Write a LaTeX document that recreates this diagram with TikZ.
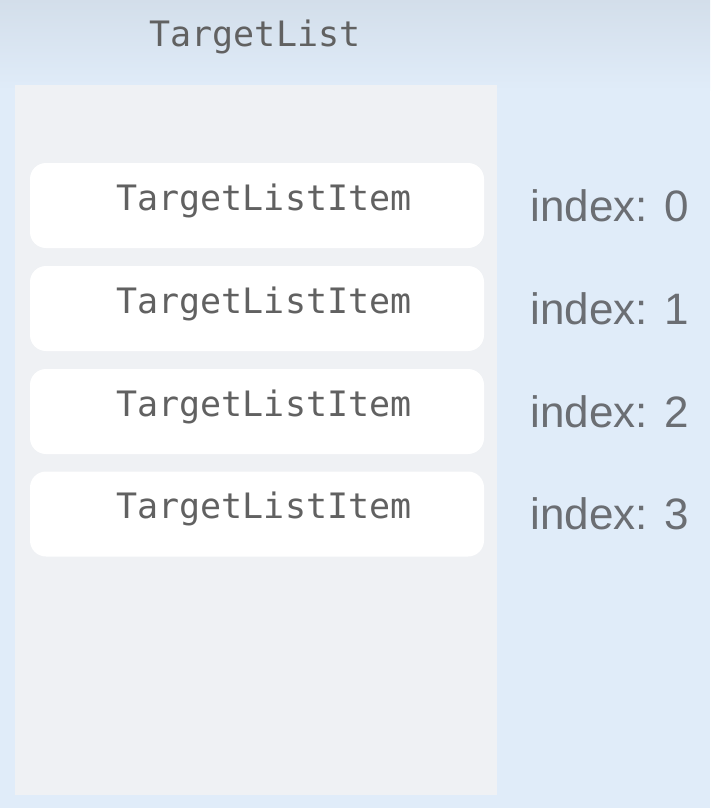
\documentclass[tikz,border=0pt]{standalone}
\usepackage{fontspec}
\setmainfont{Liberation Sans}
\setmonofont{DejaVu Sans Mono}
\usetikzlibrary{positioning}
\definecolor{dfebf7}{rgb}{0.878,0.925,0.976}
\definecolor{d3deea}{rgb}{0.827,0.871,0.918}
\definecolor{eff1f4}{rgb}{0.937,0.945,0.957}
\definecolor{wwwwww}{rgb}{0.38,0.38,0.38}
\definecolor{zzzzzz}{rgb}{0.42,0.43,0.45}

\begin{document}
\begin{tikzpicture}[line cap=round,line join=round,x=1pt,y=-1pt,
	panelbox/.style={fill=eff1f4,minimum width=482pt,minimum height=710pt,inner sep=0pt},
	listitem/.style={fill=white,rounded corners=16pt,minimum width=454pt,minimum height=85pt,inner sep=0pt},
	monotext/.style={text=wwwwww,inner sep=0pt,font=\fontsize{35}{40}\ttfamily},
	indextext/.style={text=zzzzzz,inner sep=0pt,font=\fontsize{44}{50}\selectfont}]
		\useasboundingbox (0,0) rectangle (710,808);
		\fill [dfebf7] (0,0) rectangle (710,808);
		\shade [top color=d3deea,bottom color=dfebf7] (0,0) rectangle (710,90);
		\node [panelbox] (panel) at (256,440) {};
		\node [monotext] (title) at (255,37) {TargetList};
		\foreach \i/\y in {0/205.5,1/308.5,2/411.5,3/514}{
			\node [listitem] (item\i) at (257,\y) {};
			\node [monotext] (itemtext\i) at ([xshift=7pt,yshift=5pt]item\i.center) {TargetListItem};
			\node [indextext,right=46pt of item\i] (index\i) {index: \i};
		}
	\end{tikzpicture}
\end{document}
